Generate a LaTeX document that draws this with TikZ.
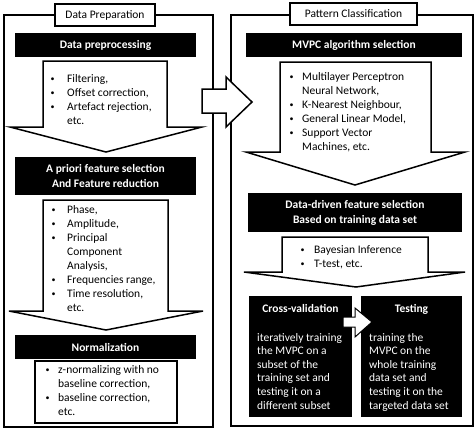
\documentclass[tikz,border=0pt]{standalone}
\usepackage{fontspec}
\setmainfont{Carlito}
\newcommand{\blt}{\raisebox{0.6pt}{\fontsize{8}{8}\selectfont\textbullet}}
\begin{document}
\begin{tikzpicture}[x=1pt, y=-1pt, line join=miter,
  frame/.style={draw, line width=1.5pt},
  titlebox/.style={draw, fill=white, line width=1.5pt, minimum height=22pt,
    inner sep=0pt, font=\fontsize{11.5}{14}\selectfont},
  blackbar/.style={fill=black, text=white, align=center, inner sep=0pt,
    font=\fontsize{11.5}{15}\selectfont\bfseries},
  flowbox/.style={draw, fill=white, line width=1.5pt},
  listtext/.style={anchor=base west, inner sep=0pt, font=\fontsize{11.5}{14}\selectfont},
  bodytext/.style={anchor=base west, inner sep=0pt, text=white,
    font=\fontsize{11.5}{13.6}\selectfont}
]
\useasboundingbox (0,0) rectangle (474,432);

% --- Outer frames ---
\draw[frame] (4,15) rectangle (213,427);
\draw[frame] (231,15) rectangle (473,426);
\node[titlebox, minimum width=100pt] (preptitle) at (105,15) {Data Preparation};
\node[titlebox, minimum width=127pt] (pattitle) at (353.5,14) {Pattern Classification};

% --- Arrow between the two frames ---
\draw[flowbox] (202,89) -- (226,89) -- (226,77) -- (252,102)
  -- (226,127) -- (226,113) -- (202,113) -- cycle;

% --- Left column: data preparation ---
\node[blackbar, minimum width=181pt, minimum height=24pt] (prepbar) at (105.5,45) {Data preprocessing};
\draw[flowbox] (43,61) -- (167,61) -- (167,127) -- (202,127) -- (106,152)
  -- (10,127) -- (43,127) -- cycle;
\node[listtext] (preplist) at (50.5,82) {\begin{tabular}[t]{@{}p{16.5pt}@{}l@{}}
  \blt & Filtering,\\
  \blt & Offset correction,\\
  \blt & Artefact rejection,\\
       & etc.
\end{tabular}};

\node[blackbar, minimum width=181pt, minimum height=38pt] (featbar) at (105.5,176)
  {A priori feature selection\\And Feature reduction};
\draw[flowbox] (43,200) -- (168,200) -- (168,311) -- (203,311) -- (106,330)
  -- (9,311) -- (43,311) -- cycle;
\node[listtext] (featlist) at (51.5,213) {\begin{tabular}[t]{@{}p{15.5pt}@{}l@{}}
  \blt & Phase,\\
  \blt & Amplitude,\\
  \blt & Principal\\
       & Component\\
       & Analysis,\\
  \blt & Frequencies range,\\
  \blt & Time resolution,\\
       & etc.
\end{tabular}};

\node[blackbar, minimum width=181pt, minimum height=24pt] (normbar) at (105.5,347) {Normalization};
\draw[flowbox] (35,361) rectangle (177,423);
\node[listtext] (normlist) at (45.5,373) {\begin{tabular}[t]{@{}p{12.5pt}@{}l@{}}
  \blt & z-normalizing with no\\
       & baseline correction,\\
  \blt & baseline correction,\\
       & etc.
\end{tabular}};

% --- Right column: pattern classification ---
\node[blackbar, minimum width=216pt, minimum height=24pt] (mvpcbar) at (354,45) {MVPC algorithm selection};
\draw[flowbox] (280,62) -- (431,62) -- (431,152) -- (465,152) -- (355,185)
  -- (246,152) -- (280,152) -- cycle;
\node[listtext] (mvpclist) at (289.5,80) {\begin{tabular}[t]{@{}p{12.5pt}@{}l@{}}
  \blt & Multilayer Perceptron\\
       & Neural Network,\\
  \blt & K-Nearest Neighbour,\\
  \blt & General Linear Model,\\
  \blt & Support Vector\\
       & Machines, etc.
\end{tabular}};

\node[blackbar, minimum width=214pt, minimum height=39pt] (drivenbar) at (355,212.5)
  {Data-driven feature selection\\Based on training data set};
\draw[flowbox] (282,237) -- (428,237) -- (428,272) -- (465,272) -- (356,287)
  -- (244,272) -- (282,272) -- cycle;
\node[listtext] (bayeslist) at (300.5,253) {\begin{tabular}[t]{@{}p{13.5pt}@{}l@{}}
  \blt & Bayesian Inference\\
  \blt & T-test, etc.
\end{tabular}};

% --- Cross-validation and testing ---
\node[fill=black, minimum width=103pt, minimum height=121pt, inner sep=0pt] (cvbox) at (300.5,356.5) {};
\node[fill=black, minimum width=101pt, minimum height=121pt, inner sep=0pt] (testbox) at (411.5,356.5) {};
\node[blackbar, anchor=base] (cvtitle) at (300.5,312) {Cross-validation};
\node[blackbar, anchor=base] (testtitle) at (411.5,312) {Testing};
\node[bodytext] (cvtext) at (257,341) {\begin{tabular}[t]{@{}l@{}}
  iteratively training\\the MVPC on a\\subset of the\\training set and\\testing it on a\\different subset
\end{tabular}};
\node[bodytext] (testtext) at (369,341) {\begin{tabular}[t]{@{}l@{}}
  training the\\MVPC on the\\whole training\\data set and\\testing it on the\\targeted data set
\end{tabular}};
\draw[fill=white, draw=black, line width=1pt] (343,317) -- (355,317) -- (355,308) -- (372,322)
  -- (355,337) -- (355,327) -- (343,327) -- cycle;

\end{tikzpicture}
\end{document}
